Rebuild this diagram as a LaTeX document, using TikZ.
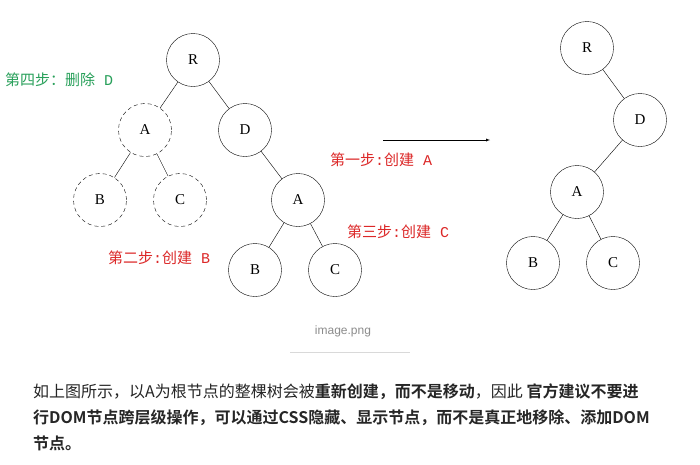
\documentclass[tikz,border=0pt]{standalone}
\usepackage{fontspec}
\setmainfont{Liberation Serif}
\newfontfamily\cjk{Noto Sans CJK SC}
\newfontfamily\cjkb{Noto Sans CJK SC Bold}
\newfontfamily\lsans{Liberation Sans}
\newfontfamily\lmono{Liberation Mono}
\begin{document}
\begin{tikzpicture}[x=1pt,y=-1pt,
  nd/.style={circle,draw,minimum size=53pt,inner sep=0pt,font=\fontsize{15}{15}\selectfont},
  dnd/.style={nd,dashed,dash pattern=on 4pt off 3pt},
  lbl/.style={anchor=west,inner sep=0pt,font=\cjk\fontsize{15}{16}\selectfont},
  txt/.style={anchor=west,inner sep=0pt,font=\cjk\fontsize{16}{17}\selectfont,text=black!85}]
\useasboundingbox[fill=white] (0,0) rectangle (700,464);
\node[nd] (R) at (193,60) {R};
\node[dnd] (A) at (145,130) {A};
\node[nd] (D) at (245,130) {D};
\node[dnd] (B) at (100,200) {B};
\node[dnd] (C) at (180,200) {C};
\node[nd] (A2) at (298,200) {A};
\node[nd] (B2) at (255,270) {B};
\node[nd] (C2) at (335,270) {C};
\draw (R)--(A); \draw (R)--(D); \draw (A)--(B); \draw (A)--(C);
\draw (D)--(A2); \draw (A2)--(B2); \draw (A2)--(C2);
\node[nd] (rR) at (587,48) {R};
\node[nd] (rD) at (640,120) {D};
\node[nd] (rA) at (577,192) {A};
\node[nd] (rB) at (533,263) {B};
\node[nd] (rC) at (613,263) {C};
\draw (rR)--(rD); \draw (rD)--(rA); \draw (rA)--(rB); \draw (rA)--(rC);
\coordinate (a1) at (383,140); \coordinate (a2) at (490,140);
\draw[-latex] (a1)--(a2);
\node[lbl,text={rgb,255:red,40;green,160;blue,90}] (l4) at (5,80) {第四步：删除{\lmono\ D}};
\node[lbl,text={rgb,255:red,220;green,40;blue,40}] (l1) at (330,160) {第一步{\lmono :}创建{\lmono\ A}};
\node[lbl,text={rgb,255:red,220;green,40;blue,40}] (l3) at (347,232) {第三步{\lmono :}创建{\lmono\ C}};
\node[lbl,text={rgb,255:red,220;green,40;blue,40}] (l2) at (108,258) {第二步{\lmono :}创建{\lmono\ B}};
\node[font=\lsans\fontsize{12}{12}\selectfont,text=black!45] (cap) at (343,331) {image.png};
\draw[black!15] (290,352)--(410,352);
\node[txt] (t1) at (33,392) {如上图所示，以A为根节点的整棵树会被{\cjkb 重新创建，而不是移动}，因此 {\cjkb 官方建议不要进}};
\node[txt,font=\cjkb\fontsize{16}{17}\selectfont] (t2) at (33,418) {行DOM节点跨层级操作，可以通过CSS隐藏、显示节点，而不是真正地移除、添加DOM};
\node[txt,font=\cjkb\fontsize{16}{17}\selectfont] (t3) at (33,443) {节点。};
\end{tikzpicture}
\end{document}
